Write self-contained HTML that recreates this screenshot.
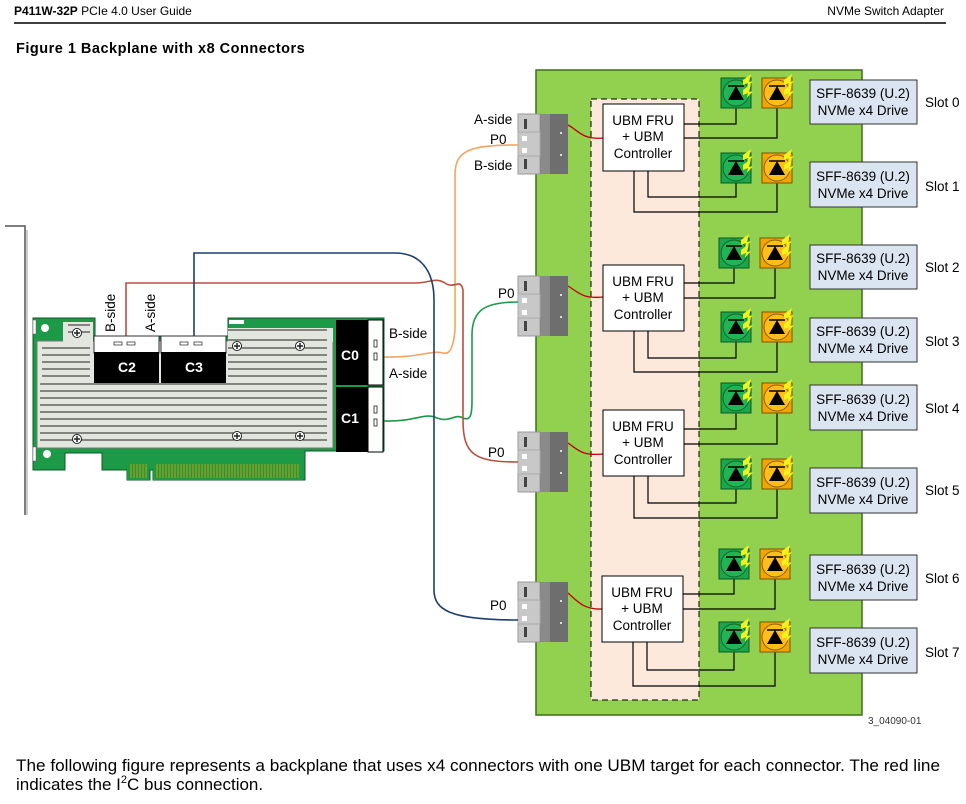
<!DOCTYPE html>
<html><head><meta charset="utf-8"><style>
body{margin:0;background:#fff;width:966px;height:799px;overflow:hidden;font-family:"Liberation Sans",sans-serif}
</style></head><body>
<svg width="966" height="799" viewBox="0 0 966 799" xmlns="http://www.w3.org/2000/svg" font-family="Liberation Sans, sans-serif">
<defs>
<g id="led">
 <rect x="0" y="0" width="30" height="30" fill="#1aa64a" stroke="#0b5a22"/>
 <circle cx="15" cy="15" r="13" fill="#22b355" stroke="#0d6a2b"/>
 <polygon points="7,22 23,22 15,8" fill="#000"/>
 <line x1="7" y1="8" x2="23" y2="8" stroke="#000" stroke-width="1.5"/>
 <polygon points="22,2 30,-4 28,4 32,3 26,10 27,5 22,7" fill="#f2f21c"/>
 <polygon points="22,12 30,6 28,14 32,13 26,20 27,15 22,17" fill="#f2f21c"/>
</g>
<g id="ledo">
 <rect x="0" y="0" width="30" height="30" fill="#f2a500" stroke="#7a5500"/>
 <circle cx="15" cy="15" r="13" fill="#ffbe1a" stroke="#8a6000"/>
 <polygon points="7,22 23,22 15,8" fill="#000"/>
 <line x1="7" y1="8" x2="23" y2="8" stroke="#000" stroke-width="1.5"/>
 <polygon points="22,2 30,-4 28,4 32,3 26,10 27,5 22,7" fill="#f2f21c"/>
 <polygon points="22,12 30,6 28,14 32,13 26,20 27,15 22,17" fill="#f2f21c"/>
</g>
<g id="conn">
 <rect x="0" y="0" width="22" height="60" fill="#c8c8c8" stroke="#999"/>
 <rect x="22" y="0" width="28" height="60" fill="#6e6e6e"/>
 <rect x="22" y="0" width="10" height="60" fill="#8a8a8a"/>
 <rect x="6" y="5" width="3" height="10" fill="#444"/>
 <rect x="6" y="45" width="3" height="10" fill="#444"/>
 <rect x="4" y="22" width="5" height="5" fill="#fff"/>
 <rect x="4" y="34" width="5" height="5" fill="#fff"/>
 <rect x="0" y="18" width="22" height="24" fill="none" stroke="#aaa"/>
 <rect x="42" y="18" width="2" height="2" fill="#ddd"/>
 <rect x="42" y="40" width="2" height="2" fill="#ddd"/>
</g>
<g id="screw"><circle r="4.5" fill="#fff" stroke="#222"/><path d="M-3,0H3M0,-3V3" stroke="#222" stroke-width="1.5"/></g>
</defs>

<text x="14" y="15" font-size="12" fill="#000"><tspan font-weight="bold">P411W-32P</tspan> PCIe 4.0 User Guide</text>
<text x="944" y="15" font-size="12" text-anchor="end">NVMe Switch Adapter</text>
<line x1="14" y1="23" x2="946" y2="23" stroke="#000" stroke-width="1.5"/>
<text x="16" y="53" font-size="14.5" font-weight="bold" letter-spacing="0.5">Figure 1  Backplane with x8 Connectors</text>

<rect x="536" y="70" width="326" height="645" fill="#92d050" stroke="#3c6e1c" stroke-width="1.5"/>
<rect x="591" y="99" width="108" height="601" fill="#fde9dc" stroke="#000" stroke-dasharray="6,4"/>

<use href="#conn" x="518" y="114"/>
<use href="#conn" x="518" y="276"/>
<use href="#conn" x="518" y="432"/>
<use href="#conn" x="518" y="582"/>

<g fill="none" stroke="#c00000" stroke-width="1.3">
<path d="M568,125 C578,130 582,140 603,138"/>
<path d="M568,286 C578,292 582,299 603,297"/>
<path d="M568,443 C578,450 582,456 603,454"/>
<path d="M568,593 C578,602 584,610 603,609"/>
</g>

<g font-size="13.5" text-anchor="middle">
<rect x="603" y="104" width="81" height="67" fill="#fff" stroke="#000"/>
<text x="643" y="125">UBM FRU</text><text x="643" y="141">+ UBM</text><text x="643" y="158">Controller</text>
<rect x="603" y="265" width="81" height="66" fill="#fff" stroke="#000"/>
<text x="643" y="286">UBM FRU</text><text x="643" y="302">+ UBM</text><text x="643" y="319">Controller</text>
<rect x="603" y="410" width="81" height="66" fill="#fff" stroke="#000"/>
<text x="643" y="431">UBM FRU</text><text x="643" y="447">+ UBM</text><text x="643" y="464">Controller</text>
<rect x="602" y="576" width="81" height="66" fill="#fff" stroke="#000"/>
<text x="642" y="597">UBM FRU</text><text x="642" y="613">+ UBM</text><text x="642" y="630">Controller</text>
</g>

<g fill="none" stroke="#000" stroke-width="1.2">
<path d="M684,124 H736 V108"/><path d="M684,138 H777 V108"/>
<path d="M648,171 V197 H736 V183"/><path d="M634,171 V212 H777 V183"/>
<path d="M684,283 H734 V268"/><path d="M684,298 H775 V268"/>
<path d="M648,331 V358 H736 V342"/><path d="M634,331 V372 H777 V342"/>
<path d="M684,429 H736 V413"/><path d="M684,444 H777 V413"/>
<path d="M648,476 V503 H736 V489"/><path d="M634,476 V518 H777 V489"/>
<path d="M683,594 H734 V579"/><path d="M683,609 H775 V579"/>
<path d="M647,642 V670 H734 V652"/><path d="M633,642 V686 H775 V652"/>
</g>

<use href="#led" x="721" y="78"/><use href="#ledo" x="762" y="78"/>
<use href="#led" x="721" y="153"/><use href="#ledo" x="762" y="153"/>
<use href="#led" x="719" y="238"/><use href="#ledo" x="760" y="238"/>
<use href="#led" x="721" y="312"/><use href="#ledo" x="762" y="312"/>
<use href="#led" x="721" y="383"/><use href="#ledo" x="762" y="383"/>
<use href="#led" x="721" y="459"/><use href="#ledo" x="762" y="459"/>
<use href="#led" x="719" y="549"/><use href="#ledo" x="760" y="549"/>
<use href="#led" x="719" y="622"/><use href="#ledo" x="760" y="622"/>

<g font-size="13.5" text-anchor="middle">
<rect x="810" y="80" width="107" height="44" fill="#dbe5f1" stroke="#333"/><text x="863" y="98">SFF-8639 (U.2)</text><text x="863" y="115">NVMe x4 Drive</text>
<rect x="810" y="162" width="107" height="45" fill="#dbe5f1" stroke="#333"/><text x="863" y="181">SFF-8639 (U.2)</text><text x="863" y="198">NVMe x4 Drive</text>
<rect x="810" y="245" width="107" height="44" fill="#dbe5f1" stroke="#333"/><text x="863" y="263">SFF-8639 (U.2)</text><text x="863" y="280">NVMe x4 Drive</text>
<rect x="810" y="318" width="107" height="44" fill="#dbe5f1" stroke="#333"/><text x="863" y="336">SFF-8639 (U.2)</text><text x="863" y="353">NVMe x4 Drive</text>
<rect x="810" y="385" width="107" height="45" fill="#dbe5f1" stroke="#333"/><text x="863" y="404">SFF-8639 (U.2)</text><text x="863" y="421">NVMe x4 Drive</text>
<rect x="810" y="468" width="107" height="45" fill="#dbe5f1" stroke="#333"/><text x="863" y="487">SFF-8639 (U.2)</text><text x="863" y="504">NVMe x4 Drive</text>
<rect x="810" y="555" width="107" height="45" fill="#dbe5f1" stroke="#333"/><text x="863" y="574">SFF-8639 (U.2)</text><text x="863" y="591">NVMe x4 Drive</text>
<rect x="810" y="628" width="107" height="45" fill="#dbe5f1" stroke="#333"/><text x="863" y="647">SFF-8639 (U.2)</text><text x="863" y="664">NVMe x4 Drive</text>
</g>
<g font-size="13.5">
<text x="925" y="107">Slot 0</text><text x="925" y="191">Slot 1</text><text x="925" y="272">Slot 2</text><text x="925" y="346">Slot 3</text>
<text x="925" y="413">Slot 4</text><text x="925" y="495">Slot 5</text><text x="925" y="583">Slot 6</text><text x="925" y="657">Slot 7</text>
</g>
<text x="868" y="724" font-size="10" fill="#333">3_04090-01</text>

<g font-size="13.5">
<text x="474" y="124">A-side</text><text x="490" y="144">P0</text><text x="474" y="170">B-side</text>
<text x="498" y="298">P0</text>
<text x="488" y="457">P0</text>
<text x="490" y="610">P0</text>
</g>

<g fill="none" stroke-width="1.6">
<path d="M384,357 C420,358 430,350 443,353 C452,356 454,340 455,330 V175 C455,150 470,145 518,145" stroke="#f4a460"/>
<path d="M384,421 C415,422 425,412 437,418 C450,423 455,413 463,418 C472,422 472,410 472,400 V335 C472,310 485,302 518,302" stroke="#1a9a4a"/>
<path d="M126,336 V283 H415 C430,283 435,277 445,283 C455,290 460,277 463,290 V420 C463,455 475,462 518,462" stroke="#b85040"/>
<path d="M194,336 V253 H395 C420,253 434,270 434,300 V590 C434,610 450,620 518,620" stroke="#1f3d6e"/>
</g>

<polyline points="5,226 25,226 25,515" fill="none" stroke="#555" stroke-width="1.5"/>
<line x1="27" y1="230" x2="27" y2="515" stroke="#bbb" stroke-width="1.5"/>
<path d="M33,318 H95 V336 H228 V318 H384 V451 H305 V480 H153 V470 H150 V480 H127 V470 H102 V453 H65 V470 H33 Z" fill="#1d9a48" stroke="#0c5a28"/>
<rect x="33" y="320" width="3" height="14" fill="#fff" stroke="#666" stroke-width="0.5"/>
<rect x="33" y="447" width="3" height="14" fill="#fff" stroke="#666" stroke-width="0.5"/>
<rect x="37" y="341" width="296" height="107" fill="#e3e5df" stroke="#777"/>
<rect x="63" y="322" width="30" height="20" fill="#e3e5df"/>
<rect x="228" y="328" width="105" height="14" fill="#e3e5df"/>
<rect x="229" y="320" width="15" height="4" fill="#fff"/>
<g stroke="#222" stroke-width="1">
<line x1="42" y1="348" x2="90" y2="348"/><line x1="42" y1="355" x2="90" y2="355"/><line x1="42" y1="362" x2="90" y2="362"/><line x1="42" y1="369" x2="90" y2="369"/><line x1="42" y1="376" x2="90" y2="376"/>
<line x1="228" y1="330" x2="327" y2="330"/><line x1="228" y1="340" x2="327" y2="340"/><line x1="228" y1="348" x2="327" y2="348"/><line x1="228" y1="355" x2="327" y2="355"/><line x1="228" y1="362" x2="327" y2="362"/><line x1="228" y1="369" x2="327" y2="369"/><line x1="228" y1="376" x2="327" y2="376"/>
<line x1="40" y1="384" x2="327" y2="384"/><line x1="40" y1="391" x2="327" y2="391"/><line x1="40" y1="398" x2="327" y2="398"/><line x1="40" y1="405" x2="327" y2="405"/><line x1="40" y1="412" x2="327" y2="412"/><line x1="40" y1="419" x2="327" y2="419"/><line x1="40" y1="426" x2="327" y2="426"/><line x1="40" y1="433" x2="327" y2="433"/><line x1="40" y1="440" x2="327" y2="440"/>
<line x1="68" y1="325" x2="90" y2="325"/><line x1="68" y1="332" x2="90" y2="332"/>
</g>
<use href="#screw" x="77" y="333"/><use href="#screw" x="77" y="439"/><use href="#screw" x="237" y="346"/><use href="#screw" x="300" y="346"/><use href="#screw" x="237" y="436"/><use href="#screw" x="300" y="436"/>
<circle cx="45" cy="328" r="4" fill="#fff"/><circle cx="47" cy="454" r="4" fill="#fff"/>
<rect x="127" y="462" width="22" height="18" fill="#1d9a48"/>
<rect x="153" y="462" width="150" height="18" fill="#1d9a48"/>
<g stroke="#c8a000" stroke-width="1">
<path d="M131,464V478M134,464V478M137,464V478M140,464V478M143,464V478M146,464V478"/>
<path d="M157,464V478M160,464V478M163,464V478M166,464V478M169,464V478M172,464V478M175,464V478M178,464V478M181,464V478M184,464V478M187,464V478M190,464V478M193,464V478M196,464V478M199,464V478M202,464V478M205,464V478M208,464V478M211,464V478M214,464V478M217,464V478M220,464V478M223,464V478M226,464V478M229,464V478M232,464V478M235,464V478M238,464V478M241,464V478M244,464V478M247,464V478M250,464V478M253,464V478M256,464V478M259,464V478M262,464V478M265,464V478M268,464V478M271,464V478M274,464V478M277,464V478M280,464V478M283,464V478M286,464V478M289,464V478M292,464V478M295,464V478M298,464V478"/>
</g>
<rect x="94" y="336" width="65" height="17" fill="#fff" stroke="#333"/>
<rect x="94" y="352" width="65" height="31" fill="#000"/>
<rect x="161" y="336" width="65" height="17" fill="#fff" stroke="#333"/>
<rect x="161" y="352" width="65" height="31" fill="#000"/>
<g fill="#fff" stroke="#000" stroke-width="0.6"><rect x="114" y="342" width="8" height="3"/><rect x="127" y="342" width="8" height="3"/><rect x="180" y="342" width="8" height="3"/><rect x="194" y="342" width="8" height="3"/></g>
<text x="127" y="372" font-size="14" font-weight="bold" fill="#fff" text-anchor="middle">C2</text>
<text x="194" y="372" font-size="14" font-weight="bold" fill="#fff" text-anchor="middle">C3</text>
<rect x="336" y="320" width="32" height="65" fill="#000"/>
<rect x="368" y="320" width="15" height="65" fill="#fff" stroke="#000"/>
<rect x="336" y="387" width="32" height="65" fill="#000"/>
<rect x="368" y="387" width="15" height="65" fill="#fff" stroke="#000"/>
<g fill="#fff" stroke="#000" stroke-width="0.7"><rect x="374" y="340" width="3" height="7"/><rect x="374" y="353" width="3" height="7"/><rect x="374" y="406" width="3" height="7"/><rect x="374" y="419" width="3" height="7"/></g>
<text x="350" y="360" font-size="14" font-weight="bold" fill="#fff" text-anchor="middle">C0</text>
<text x="350" y="423" font-size="14" font-weight="bold" fill="#fff" text-anchor="middle">C1</text>
<text x="389" y="338" font-size="13.5">B-side</text>
<text x="389" y="378" font-size="13.5">A-side</text>
<text transform="translate(115,332) rotate(-90)" font-size="13.5">B-side</text>
<text transform="translate(155,332) rotate(-90)" font-size="13.5">A-side</text>

<text x="16" y="771" font-size="17" textLength="924" lengthAdjust="spacingAndGlyphs">The following figure represents a backplane that uses x4 connectors with one UBM target for each connector. The red line</text>
<text x="16" y="790" font-size="17">indicates the I<tspan font-size="11" dy="-7">2</tspan><tspan dy="7">C bus connection.</tspan></text>
</svg>
</body></html>
